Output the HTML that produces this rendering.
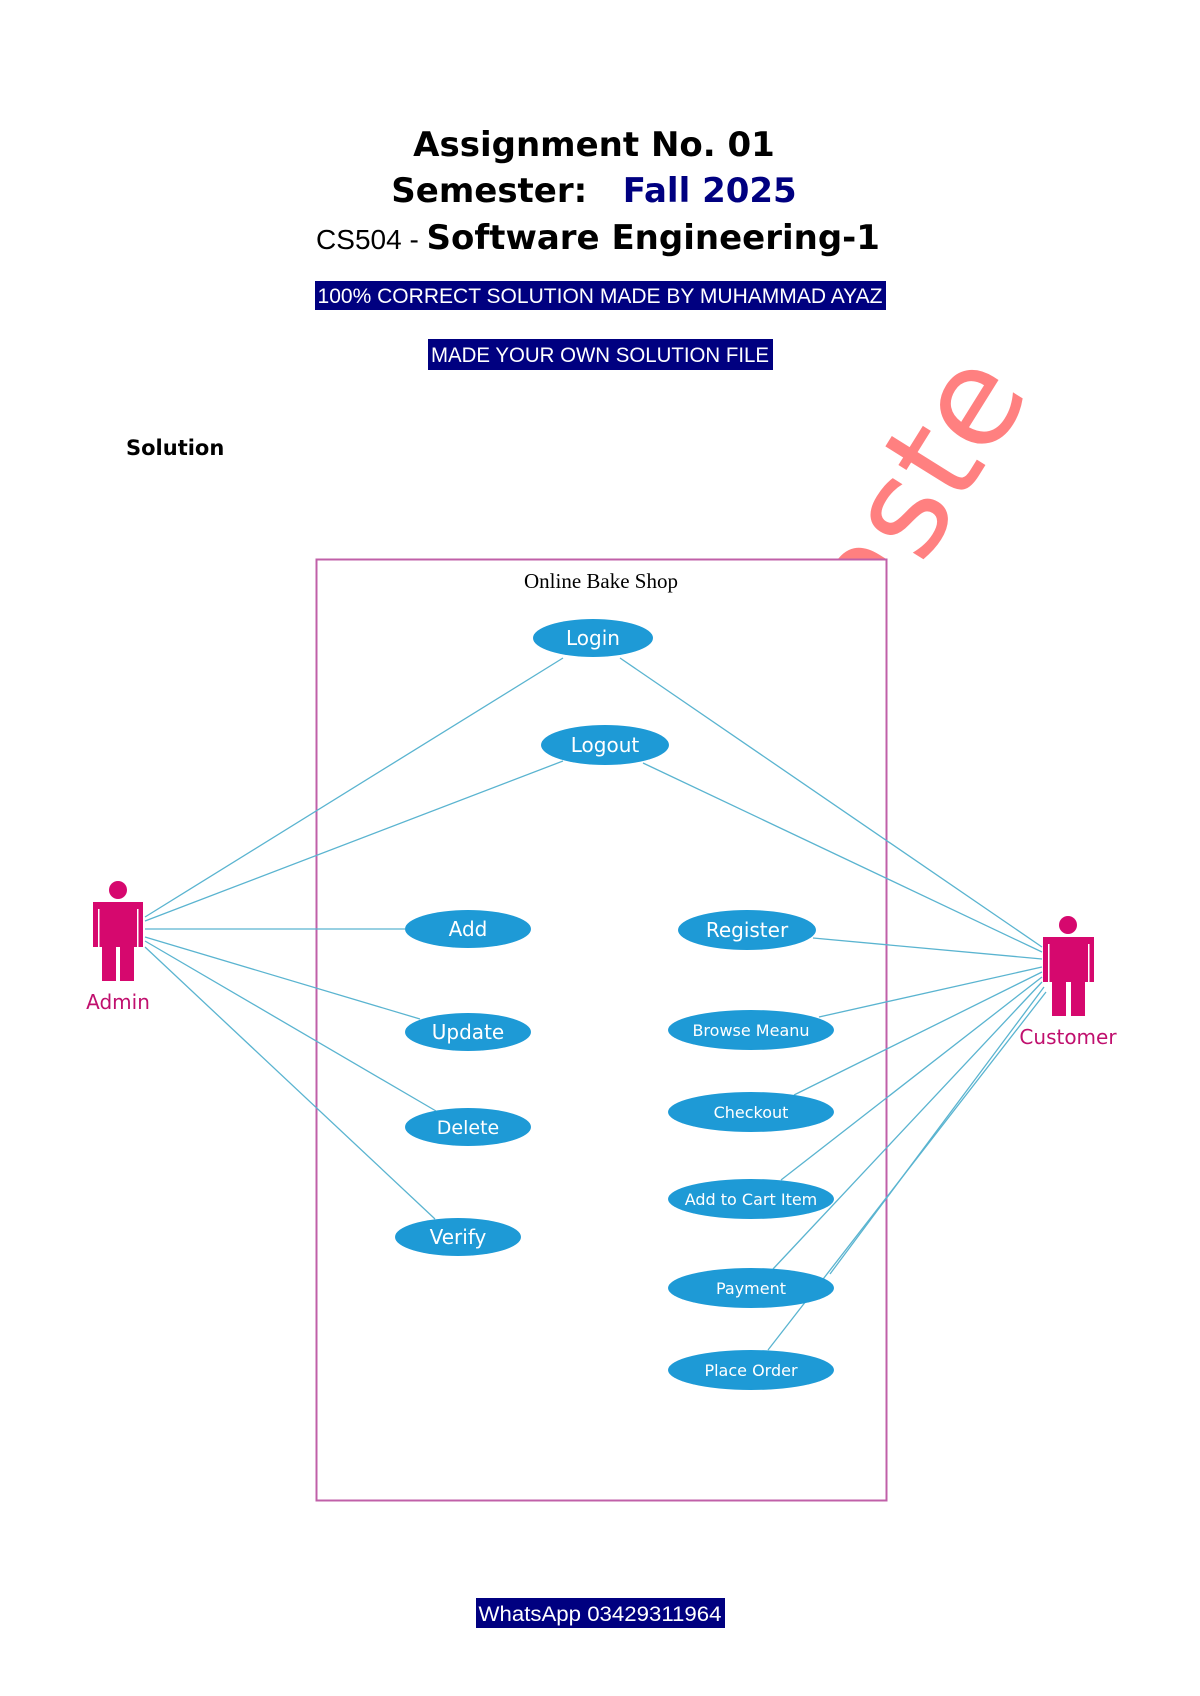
<!DOCTYPE html>
<html><head><meta charset="utf-8"><style>
body{margin:0;background:#fff;}
svg{display:block}
</style></head><body>
<svg width="1200" height="1696" viewBox="0 0 1200 1696" xmlns="http://www.w3.org/2000/svg">
<g transform="translate(-2,-3)">
<g font-family="DejaVu Sans, sans-serif" font-weight="bold" text-anchor="middle">
<text x="596" y="159" font-size="34">Assignment No. 01</text>
<text x="596" y="205" font-size="34" xml:space="preserve">Semester:   <tspan fill="#000080">Fall 2025</tspan></text>
<text x="600" y="252" font-size="34"><tspan font-family="Liberation Sans, sans-serif" font-weight="normal" font-size="28">CS504 - </tspan>Software Engineering-1</text>
</g>
<rect x="317" y="284" width="571" height="29" fill="#000080"/>
<text x="602" y="306" font-family="Liberation Sans, sans-serif" font-size="21" fill="#fff" text-anchor="middle" textLength="565" lengthAdjust="spacingAndGlyphs">100% CORRECT SOLUTION MADE BY MUHAMMAD AYAZ</text>
<rect x="430" y="342" width="345" height="31" fill="#000080"/>
<text x="602" y="365" font-family="Liberation Sans, sans-serif" font-size="21" fill="#fff" text-anchor="middle" textLength="338" lengthAdjust="spacingAndGlyphs">MADE YOUR OWN SOLUTION FILE</text>
<text x="128" y="458" font-family="DejaVu Sans, sans-serif" font-weight="bold" font-size="21">Solution</text>
<text x="0" y="0" font-family="DejaVu Sans, sans-serif" font-size="135" fill="#ff8080" transform="translate(880,640) rotate(-58)">aste</text>
<rect x="0" y="563" width="1200" height="1136" fill="#fff"/>
<rect x="318.5" y="562.5" width="570" height="941" fill="none" stroke="#c060a8" stroke-width="2"/>
<text x="603" y="591" font-family="Liberation Serif, serif" font-size="21" text-anchor="middle">Online Bake Shop</text>
<g stroke="#5ab4d0" stroke-width="1.3" fill="none">
<line x1="147" y1="920" x2="565" y2="661"/>
<line x1="147" y1="924" x2="565" y2="764"/>
<line x1="147" y1="932" x2="407" y2="932"/>
<line x1="147" y1="940" x2="422" y2="1022"/>
<line x1="147" y1="944" x2="438" y2="1114"/>
<line x1="147" y1="950" x2="437" y2="1222"/>
<line x1="1044" y1="950" x2="622" y2="661"/>
<line x1="1044" y1="955" x2="645" y2="766"/>
<line x1="1044" y1="962" x2="815" y2="941"/>
<line x1="1044" y1="970" x2="821" y2="1020"/>
<line x1="1044" y1="975" x2="796" y2="1098"/>
<line x1="1044" y1="980" x2="783" y2="1183"/>
<line x1="1044" y1="985" x2="775" y2="1272"/>
<line x1="1046" y1="990" x2="832" y2="1277"/>
<line x1="1048" y1="995" x2="770" y2="1353"/>
</g>
<g fill="#1e9ad6">
<ellipse cx="595" cy="641" rx="60" ry="19"/>
<ellipse cx="607" cy="748" rx="64" ry="20"/>
<ellipse cx="470" cy="932" rx="63" ry="19"/>
<ellipse cx="470" cy="1035" rx="63" ry="19"/>
<ellipse cx="470" cy="1130" rx="63" ry="19"/>
<ellipse cx="460" cy="1240" rx="63" ry="19"/>
<ellipse cx="749" cy="933" rx="69" ry="20"/>
<ellipse cx="753" cy="1033" rx="83" ry="20"/>
<ellipse cx="753" cy="1115" rx="83" ry="20"/>
<ellipse cx="753" cy="1202" rx="83" ry="20"/>
<ellipse cx="753" cy="1291" rx="83" ry="20"/>
<ellipse cx="753" cy="1373" rx="83" ry="20"/>
</g>
<g font-family="DejaVu Sans, sans-serif" fill="#fff" text-anchor="middle">
<text x="595" y="648" font-size="20">Login</text>
<text x="607" y="755" font-size="20">Logout</text>
<text x="470" y="939" font-size="20">Add</text>
<text x="470" y="1042" font-size="20">Update</text>
<text x="470" y="1137" font-size="19">Delete</text>
<text x="460" y="1247" font-size="20">Verify</text>
<text x="749" y="940" font-size="20">Register</text>
<text x="753" y="1039" font-size="16">Browse Meanu</text>
<text x="753" y="1121" font-size="16">Checkout</text>
<text x="753" y="1208" font-size="16">Add to Cart Item</text>
<text x="753" y="1297" font-size="16">Payment</text>
<text x="753" y="1379" font-size="16">Place Order</text>
</g>
<g fill="#d6086e">
<circle cx="120" cy="893" r="9"/>
<rect x="95" y="905" width="50" height="45"/>
<rect x="104" y="940" width="14" height="44"/>
<rect x="122" y="940" width="14" height="44"/>
<circle cx="1070" cy="928" r="9"/>
<rect x="1045" y="940" width="51" height="45"/>
<rect x="1054" y="975" width="14" height="44"/>
<rect x="1073" y="975" width="14" height="44"/>
</g>
<g fill="#ffffff"><rect x="100" y="912" width="1.5" height="70"/><rect x="139" y="912" width="1.5" height="70"/><rect x="1050" y="947" width="1.5" height="70"/><rect x="1090" y="947" width="1.5" height="70"/></g>
<g font-family="DejaVu Sans, sans-serif" fill="#c0106e" font-size="20" text-anchor="middle">
<text x="120" y="1012">Admin</text>
<text x="1070" y="1047">Customer</text>
</g>
<rect x="478" y="1601" width="249" height="30" fill="#000080"/>
<text x="602" y="1624" font-family="Liberation Sans, sans-serif" font-size="21" fill="#fff" text-anchor="middle" textLength="243" lengthAdjust="spacingAndGlyphs">WhatsApp 03429311964</text>
</g>
</svg>
</body></html>
